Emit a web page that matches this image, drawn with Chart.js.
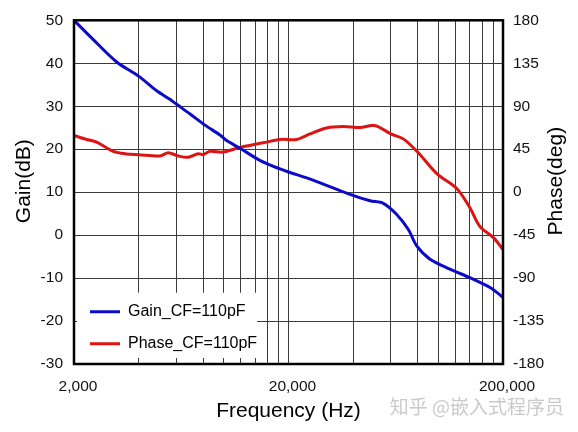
<!DOCTYPE html>
<html>
<head>
<meta charset="utf-8">
<script src="https://cdn.jsdelivr.net/npm/chart.js@4/dist/chart.umd.min.js"></script>
<style>
  html, body { margin: 0; padding: 0; background: #fff; }
  #wrap { width: 578px; height: 432px; }
</style>
</head>
<body>
<div id="wrap"><canvas id="chart"></canvas></div>
<script>
// values
const gainFreq = [2000, 2460, 3160, 4000, 4860, 5600, 6000, 6950, 8160, 9590, 10300, 12000, 14700, 18250, 20000, 26000, 38700, 48000, 55300, 63900, 72400, 79200, 91400, 113000, 140000, 174000, 200000];
const gainDb = [50, 45.5, 40.3, 37.0, 33.6, 31.6, 30.5, 28.2, 25.6, 23.3, 22.0, 20.1, 17.4, 15.4, 14.7, 12.8, 9.5, 8.0, 7.4, 4.8, 1.3, -2.5, -5.6, -7.9, -9.9, -12.2, -14.5];

const phaseFreq = [2000, 2290, 2550, 3050, 3500, 4000, 5035, 5500, 6130, 6800, 7600, 8000, 8600, 9900, 12000, 15250, 18250, 21800, 25200, 30100, 36000, 43100, 48800, 52000, 60000, 68600, 80000, 98200, 121700, 140000, 156000, 181000, 200000];
const phaseDeg = [59.3, 55.2, 52.4, 42.7, 40.0, 39.2, 37.9, 41.3, 37.9, 36.5, 40.3, 39.2, 42.7, 42.0, 47.2, 51.7, 55.2, 55.2, 61.0, 67.2, 68.7, 67.6, 69.7, 69.0, 61.0, 55.8, 42.0, 19.5, 3.9, -16.0, -35.8, -47.9, -60.0];

const xGridValues = [2000, 4000, 6000, 8000, 10000, 12000, 14000, 16000, 18000, 20000,
  40000, 60000, 80000, 100000, 120000, 140000, 160000, 180000, 200000];
const xLabelValues = [2000, 20000, 200000];
const xLabels = ["2,000", "20,000", "200,000"];

const seriesNames = ["Gain_CF=110pF", "Phase_CF=110pF"];
const xTitle = "Frequency (Hz)";
const yTitle = "Gain(dB)";
const y1Title = "Phase(deg)";
const watermark = "知乎 @嵌入式程序员";

const FONT = "'Liberation Sans', Arial, sans-serif";
const BLUE = "#0c0cc8";
const RED = "#dc1414";
const GRID = "#3a3a3a";
const LEGEND_SHIFT = 24;

// white legend panel, frame, vertical titles, watermark
const extras = {
  id: "extras",
  afterLayout(chart) {
    const lg = chart.legend;
    if (lg && !lg._shifted) {
      const orig = lg.draw.bind(lg);
      lg.draw = function () {
        chart.ctx.save();
        chart.ctx.translate(0, LEGEND_SHIFT);
        orig();
        chart.ctx.restore();
      };
      lg._shifted = true;
    }
  },
  afterDraw(chart) {
    const ctx = chart.ctx;
    const a = chart.chartArea;
    const lg = chart.legend;
    let right = a.left;
    let top = a.bottom;
    lg.legendHitBoxes.forEach(h => {
      right = Math.max(right, h.left + h.width);
      top = Math.min(top, h.top);
    });
    const boxTop = top + LEGEND_SHIFT - 11;
    ctx.save();
    ctx.fillStyle = "#fff";
    ctx.fillRect(a.left + 3, boxTop, right - (a.left + 3), a.bottom - 6 - boxTop);
    ctx.restore();
    lg.draw();

    ctx.save();
    ctx.strokeStyle = "#000";
    ctx.lineWidth = 2.5;
    ctx.strokeRect(a.left, a.top, a.right - a.left, a.bottom - a.top);

    ctx.fillStyle = "#000";
    ctx.font = "21px " + FONT;
    ctx.textAlign = "center";
    ctx.textBaseline = "middle";
    const cy = (a.top + a.bottom) / 2 - 11;
    ctx.save();
    ctx.translate(chart.scales.y.left + 24, cy);
    ctx.rotate(-Math.PI / 2);
    ctx.fillText(yTitle, 0, 0);
    ctx.restore();
    ctx.save();
    ctx.translate(chart.scales.y1.right - 22, cy);
    ctx.rotate(-Math.PI / 2);
    ctx.fillText(y1Title, 0, 0);
    ctx.restore();

    ctx.font = "19px 'Noto Sans CJK SC', sans-serif";
    ctx.fillStyle = "#cacaca";
    ctx.textAlign = "right";
    ctx.fillText(watermark, chart.width - 14, 407);
    ctx.restore();
  }
};

const ctx = document.getElementById("chart").getContext("2d");
new Chart(ctx, {
  type: "line",
  data: {
    datasets: [
      {
        label: seriesNames[0],
        data: gainFreq.map((f, i) => ({ x: f, y: gainDb[i] })),
        borderColor: BLUE,
        backgroundColor: BLUE,
        borderWidth: 3,
        pointRadius: 0,
        tension: 0.3,
        yAxisID: "y",
      },
      {
        label: seriesNames[1],
        data: phaseFreq.map((f, i) => ({ x: f, y: phaseDeg[i] })),
        borderColor: RED,
        backgroundColor: RED,
        borderWidth: 3,
        pointRadius: 0,
        tension: 0.3,
        yAxisID: "y1",
      },
    ],
  },
  options: {
    responsive: true,
    maintainAspectRatio: false,
    animation: false,
    layout: { padding: { top: 17, left: 0, right: 0, bottom: 0 } },
    plugins: {
      tooltip: { enabled: false },
      legend: {
        position: "chartArea",
        align: "end",
        labels: {
          font: { family: FONT, size: 16 },
          color: "#000",
          boxWidth: 30,
          boxHeight: 3,
          padding: 16,
          generateLabels: (chart) =>
            Chart.defaults.plugins.legend.labels.generateLabels(chart).map(l => ({
              ...l, fillStyle: l.strokeStyle, lineWidth: 0,
            })),
        },
      },
    },
    scales: {
      x: {
        type: "logarithmic",
        min: 2000,
        max: 200000,
        afterBuildTicks: (s) => { s.ticks = xGridValues.map(v => ({ value: v })); },
        afterFit: (s) => { s.height = 68; },
        ticks: {
          autoSkip: false,
          maxRotation: 0,
          padding: 13,
          labelOffset: 4,
          color: "#111",
          font: { family: FONT, size: 15.5 },
          callback: (v) => {
            const k = xLabelValues.indexOf(v);
            return k >= 0 ? xLabels[k] : "";
          },
        },
        grid: { color: GRID, lineWidth: 1, drawTicks: false },
        border: { display: false },
        title: {
          display: true,
          text: xTitle,
          color: "#000",
          font: { family: FONT, size: 21 },
          padding: { top: 0, bottom: 8 },
        },
      },
      y: {
        position: "left",
        min: -30,
        max: 50,
        afterFit: (s) => { s.width = 74; },
        ticks: {
          stepSize: 10,
          padding: 11,
          color: "#111",
          font: { family: FONT, size: 15.5 },
        },
        grid: { color: GRID, lineWidth: 1, drawTicks: false },
        border: { display: false },
      },
      y1: {
        position: "right",
        min: -180,
        max: 180,
        afterFit: (s) => { s.width = 75; },
        ticks: {
          stepSize: 45,
          padding: 10,
          color: "#111",
          font: { family: FONT, size: 15.5 },
        },
        grid: { drawOnChartArea: false, drawTicks: false },
        border: { display: false },
      },
    },
  },
  plugins: [extras],
});
</script>
</body>
</html>
